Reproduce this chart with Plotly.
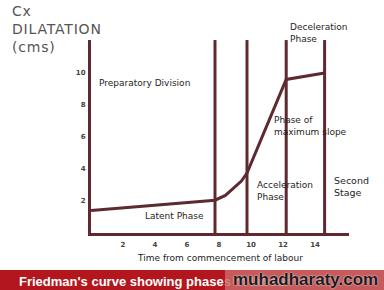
import plotly.graph_objects as go

# ---- data ----
curve_hours = [0, 7.75, 8.4, 8.9, 9.4, 9.75, 12.2, 14.6]
curve_cm = [1.4, 2.05, 2.35, 2.8, 3.25, 3.75, 9.6, 10.0]
phase_boundaries = [7.75, 9.75, 12.2, 14.6]
boundary_top = 12.06
x_ticks = [2, 4, 6, 8, 10, 12, 14]
y_ticks = [2, 4, 6, 8, 10]

LINE = "#5e2a2f"
W, H = 384, 290
L, R, T, B = 91, 35, 40, 57
PW, PH = W - L - R, H - T - B


def px(xp):
    return (xp - L) / PW


def py(yp):
    return (H - B - yp) / PH


fig = go.Figure()
fig.add_trace(go.Scatter(x=curve_hours, y=curve_cm, mode="lines",
                         line=dict(color=LINE, width=3), hoverinfo="skip"))
for b in phase_boundaries:
    fig.add_trace(go.Scatter(x=[b, b], y=[0, boundary_top], mode="lines",
                             line=dict(color=LINE, width=3), hoverinfo="skip"))

lab_font = dict(family="DejaVu Sans", size=9, color="#1e1e1e")
anns = []


def note(text, xp, yp, size=9, **kw):
    f = dict(lab_font)
    f["size"] = size
    anns.append(dict(text=text, x=px(xp), y=py(yp), xref="paper", yref="paper",
                     xanchor="left", yanchor="middle", showarrow=False,
                     font=f, align="left", **kw))


title_font = dict(family="DejaVu Sans ExtraLight, DejaVu Sans", size=14, color="#555555")
anns.append(dict(text="<span style='letter-spacing:0.8px'>Cx<br>DILATATION<br>(cms)</span>",
                 x=px(10), y=py(29), xref="paper", yref="paper",
                 xanchor="left", yanchor="middle", showarrow=False, align="left",
                 font=title_font))

note("Preparatory Division", 97, 83)
note("Deceleration<br>Phase", 288, 33)
note("Phase of<br>maximum slope", 272, 126)
note("Acceleration<br>Phase", 255, 191)
note("Second<br>Stage", 332, 186, size=9.5)
note("Latent Phase", 143, 216)
anns.append(dict(text="Time from commencement of labour", x=px(220), y=py(258),
                 xref="paper", yref="paper", xanchor="center", yanchor="middle",
                 showarrow=False, font=lab_font))

# banner
shapes = [
    dict(type="rect", xref="paper", yref="paper", x0=px(0), x1=px(W), y0=py(H), y1=py(270),
         fillcolor="#b3161c", line=dict(width=0), layer="above"),
    dict(type="rect", xref="paper", yref="paper", x0=px(225), x1=px(W), y0=py(H), y1=py(270),
         fillcolor="#c65a5c", line=dict(width=0), layer="above"),
]
anns.append(dict(text="Friedman's curve showing phase<span style='color:rgba(255,255,255,0.25)'>s of labour</span>",
                 x=px(17), y=py(281), xref="paper", yref="paper", xanchor="left", yanchor="middle",
                 showarrow=False, font=dict(family="Liberation Sans", size=13, color="white", weight="bold")))
anns.append(dict(text="muhadharaty.com", x=px(305), y=py(279), xref="paper", yref="paper",
                 xanchor="center", yanchor="middle", showarrow=False,
                 font=dict(family="Liberation Sans", size=17, color="#1a1a1a", weight="bold",
                           shadow="0px 0px 2px white")))

fig.update_layout(
    width=W, height=H, margin=dict(l=L, r=R, t=T, b=B),
    paper_bgcolor="white", plot_bgcolor="white", showlegend=False,
    annotations=anns, shapes=shapes,
    xaxis=dict(range=[0, PW / 16], showgrid=False, zeroline=False, showline=True,
               linecolor=LINE, linewidth=3, tickvals=x_ticks, ticks="",
               ticklabelstandoff=3,
               tickfont=dict(family="DejaVu Sans", size=7, color="#444", weight="bold")),
    yaxis=dict(range=[0, PH / 16], showgrid=False, zeroline=False, showline=True,
               linecolor=LINE, linewidth=3, tickvals=y_ticks, ticks="",
               ticklabelstandoff=1,
               tickfont=dict(family="DejaVu Sans", size=7, color="#444", weight="bold")),
)
fig.write_html("out.html")
